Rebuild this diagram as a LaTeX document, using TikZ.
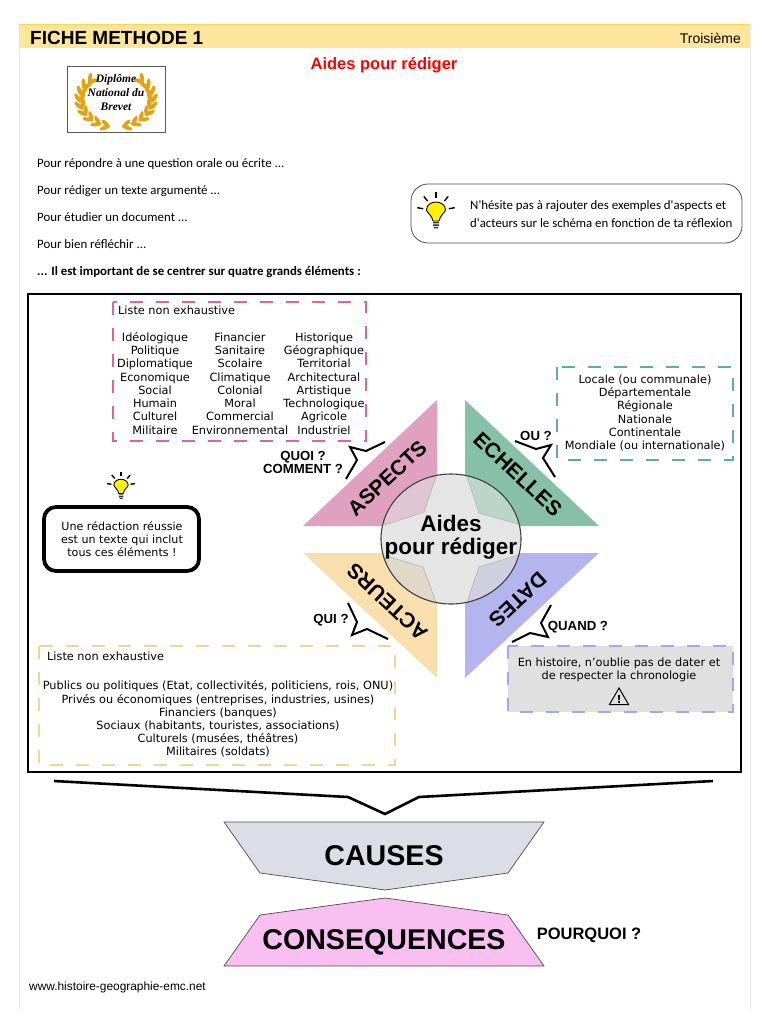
\documentclass[tikz,border=0pt]{standalone}
\usepackage{fontspec}
\usepackage{xcolor}
\setmainfont{DejaVu Sans}
\newfontfamily\arialfont{Liberation Sans}
\newfontfamily\bodyfont{Carlito}
\newfontfamily\logofont{Liberation Serif}
\usetikzlibrary{shapes.geometric, positioning, calc}
\definecolor{bandyellow}{HTML}{FDE59B}
\definecolor{pinkdash}{HTML}{E0649C}
\definecolor{greendash}{HTML}{5DB095}
\definecolor{yellowdash}{HTML}{F0D595}
\definecolor{purpledash}{HTML}{A9A5EA}
\definecolor{gold}{HTML}{E2A312}
\definecolor{aspectsfill}{HTML}{E0A0C0}
\definecolor{echellesfill}{HTML}{86C0A8}
\definecolor{acteursfill}{HTML}{FADFAE}
\definecolor{datesfill}{HTML}{B4B4EE}
\definecolor{causesfill}{HTML}{DCDEE6}
\definecolor{consfill}{HTML}{F8BFF0}

\begin{document}
\begin{tikzpicture}[
  x=1pt, y=-1pt,
  every node/.style={inner sep=0pt},
  intro/.style={anchor=west, text height=10.5pt, text depth=1.5pt, font=\bodyfont\fontsize{12.85}{15}\selectfont},
  listitem/.style={text height=10pt, text depth=1pt, font=\fontsize{11.3}{13}\selectfont},
  listhead/.style={listitem, anchor=west},
  question/.style={text height=9pt, text depth=0pt, font=\arialfont\bfseries\fontsize{13.2}{14}\selectfont},
  trilabel/.style={text height=15pt, text depth=0pt, font=\arialfont\bfseries\fontsize{21}{24}\selectfont},
  patch/.style={draw=black!30, line width=0.6pt},
  callout/.style={line width=2pt, line join=miter},
  dashbox/.style={line width=1.2pt, dash pattern=on 13pt off 13pt},
  bigblock/.style={draw=black!70, line width=0.7pt},
  biglabel/.style={text height=20.8pt, text depth=0pt, font=\arialfont\bfseries\fontsize{28.6}{31}\selectfont},
  bulb/.pic={
    \fill[black!80] (-3,11) rectangle (3,12.5) (-3,13.5) rectangle (3,15) (-2,16) rectangle (2,17.5);
    \draw[line width=0.9pt, fill=yellow] (-3,10) .. controls (-3.5,5) and (-9.5,1) .. (-9.5,-1) .. controls (-9.5,-6) and (-5,-9) .. (0,-9) .. controls (5,-9) and (9.5,-6) .. (9.5,-1) .. controls (9.5,1) and (3.5,5) .. (3,10) -- cycle;
    \foreach \a in {10,50,90,130,170}
      \draw[line width=1.4pt, rotate=\a] (13,0) -- (19,0);
  },
]
\useasboundingbox (0,0) rectangle (768,1024);

% page and header
\draw[black!8, line width=0.6pt] (19,24) -- (19,1010) (750,24) -- (750,1010);
\fill[bandyellow] (19,24) rectangle (750,48);
\draw[yellow!60!orange!70, line width=0.6pt] (19,24) -- (750,24);
\node[anchor=west, font=\arialfont\bfseries\fontsize{19}{20}\selectfont] (fiche) at (30,38) {FICHE METHODE 1};
\node[anchor=east, font=\arialfont\fontsize{14}{16}\selectfont] (level) at (741,38) {Troisième};
\node[text=red, font=\arialfont\bfseries\fontsize{16.5}{17}\selectfont] (title) at (384,65) {Aides pour rédiger};

% logo
\draw[black!65, line width=1pt] (67,67) rectangle (165,133);
\foreach \a in {138,153,168,183,198,213,228,243,258}
  \foreach \b in {-32,32}
    \fill[gold, shift={({116+36*cos(\a)},{100-27*sin(\a)})}, rotate=\a-90+\b] (4,0) ellipse (5.5 and 2.1);
\foreach \a in {42,27,12,-3,-18,-33,-48,-63,-78}
  \foreach \b in {-32,32}
    \fill[gold, shift={({116+36*cos(\a)},{100-27*sin(\a)})}, rotate=\a+90+\b] (4,0) ellipse (5.5 and 2.1);
\node[align=center, font=\logofont\bfseries\itshape\fontsize{11.5}{14}\selectfont] (logo) at (116,93) {Diplôme\\National du\\Brevet};

% intro
\node[intro] (q1) at (37,163) {Pour répondre à une question orale ou écrite ...};
\node[intro] (q2) at (37,190) {Pour rédiger un texte argumenté ...};
\node[intro] (q3) at (37,217) {Pour étudier un document ...};
\node[intro] (q4) at (37,244) {Pour bien réfléchir ...};
\node[intro, font=\bodyfont\bfseries\fontsize{12.85}{15}\selectfont] (q5) at (37,271) {... Il est important de se centrer sur quatre grands éléments :};

% hint box
\draw[black!70, line width=0.8pt, rounded corners=17pt] (411,184) rectangle (742,243);
\pic at (436,211) {bulb};
\node[intro] (hint1) at (470,205) {N'hésite pas à rajouter des exemples d'aspects et};
\node[intro] (hint2) at (470,223) {d'acteurs sur le schéma en fonction de ta réflexion};

% main frame
\draw[black, line width=1.4pt] (28,294) rectangle (741,772);

% aspects list
\draw[dashbox, draw=pinkdash] (113,302) rectangle (366,441);
\node[listhead] (listA) at (118,310) {Liste non exhaustive};
\node[listitem] at (155,337) {Idéologique};
\node[listitem] at (155,350) {Politique};
\node[listitem] at (155,363) {Diplomatique};
\node[listitem] at (155,377) {Economique};
\node[listitem] at (155,390) {Social};
\node[listitem] at (155,403) {Humain};
\node[listitem] at (155,416) {Culturel};
\node[listitem] at (155,430) {Militaire};
\node[listitem] at (240,337) {Financier};
\node[listitem] at (240,350) {Sanitaire};
\node[listitem] at (240,363) {Scolaire};
\node[listitem] at (240,377) {Climatique};
\node[listitem] at (240,390) {Colonial};
\node[listitem] at (240,403) {Moral};
\node[listitem] at (240,416) {Commercial};
\node[listitem] at (240,430) {Environnemental};
\node[listitem] at (324,337) {Historique};
\node[listitem] at (324,350) {Géographique};
\node[listitem] at (324,363) {Territorial};
\node[listitem] at (324,377) {Architectural};
\node[listitem] at (324,390) {Artistique};
\node[listitem] at (324,403) {Technologique};
\node[listitem] at (324,416) {Agricole};
\node[listitem] at (324,430) {Industriel};

% echelles list
\draw[dashbox, draw=greendash] (557,367) rectangle (733,460);
\node[listitem] at (645,379) {Locale (ou communale)};
\node[listitem] at (645,392) {Départementale};
\node[listitem] at (645,405) {Régionale};
\node[listitem] at (645,419) {Nationale};
\node[listitem] at (645,432) {Continentale};
\node[listitem] at (645,445) {Mondiale (ou internationale)};

% wedges
\fill[aspectsfill] (437,400) -- (303,526) -- (437,526) -- cycle;
\fill[echellesfill] (465,400) -- (599,526) -- (465,526) -- cycle;
\fill[acteursfill] (303,553) -- (437,553) -- (437,678) -- cycle;
\fill[datesfill] (599,553) -- (465,553) -- (465,678) -- cycle;

% centre
\fill[black!10] (451,539) ellipse (70 and 65);
\begin{scope}
  \clip (451,539) ellipse (70 and 65);
  \filldraw[patch, fill={rgb,255:red,224;green,197;blue,210}] (436,477) -- (424,512) -- (385,525) -- (375,470) -- cycle;
  \filldraw[patch, fill={rgb,255:red,188;green,213;blue,201}] (467,477) -- (479,513) -- (518,524) -- (527,470) -- cycle;
  \filldraw[patch, fill={rgb,255:red,224;green,216;blue,200}] (386,556) -- (423,567) -- (436,602) -- (375,608) -- cycle;
  \filldraw[patch, fill={rgb,255:red,207;green,207;blue,224}] (518,555) -- (479,567) -- (467,602) -- (527,608) -- cycle;
\end{scope}
\draw[black!75, line width=1.1pt] (451,539) ellipse (70 and 65);
\node[align=center, font=\arialfont\bfseries\fontsize{22.5}{23}\selectfont] (centre) at (451,537) {Aides\\pour rédiger};

\node[trilabel, rotate=43] (aspects) at (387,478) {ASPECTS};
\node[trilabel, rotate=-43] (echelles) at (518,474) {ECHELLES};
\node[trilabel, rotate=137] (acteurs) at (387,602) {ACTEURS};
\node[trilabel, rotate=223] (dates) at (518,600) {DATES};

% callouts
\draw[callout] (385,442) -- (366,451) -- (350,447) -- (357,460) -- (346,479);
\draw[callout] (515,441) -- (536,449) -- (551,445) -- (543,458) -- (555,477);
\draw[callout] (348,603) -- (357,622) -- (352,635) -- (367,629) -- (388,639);
\draw[callout] (551,605) -- (541,623) -- (548,637) -- (530,633) -- (512,642);
\node[question] (quoi) at (303,456) {QUOI ?};
\node[question] (comment) at (303,469) {COMMENT ?};
\node[question] (ou) at (536,436) {OU ?};
\node[question] (qui) at (331,619) {QUI ?};
\node[question] (quand) at (578,626) {QUAND ?};

% reminder
\pic[scale=0.75] at (121,486) {bulb};
\draw[black, line width=3.8pt, rounded corners=12pt] (44,507) rectangle (199,571);
\node[align=center, font=\fontsize{11.1}{13.3}\selectfont] (reminder) at (122,539) {Une rédaction réussie\\est un texte qui inclut\\tous ces éléments !};

% acteurs list
\draw[dashbox, draw=yellowdash] (39,646) rectangle (395,765);
\node[listhead] (listB) at (47,656) {Liste non exhaustive};
\node[listitem] at (218,685) {Publics ou politiques (Etat, collectivités, politiciens, rois, ONU)};
\node[listitem] at (218,699) {Privés ou économiques (entreprises, industries, usines)};
\node[listitem] at (218,712) {Financiers (banques)};
\node[listitem] at (218,725) {Sociaux (habitants, touristes, associations)};
\node[listitem] at (218,738) {Culturels (musées, théâtres)};
\node[listitem] at (218,751) {Militaires (soldats)};

% dates note
\filldraw[dashbox, draw=purpledash, fill=black!12] (508,646) rectangle (733,712);
\node[listitem] (note1) at (619,662) {En histoire, n'oublie pas de dater et};
\node[listitem] (note2) at (619,675) {de respecter la chronologie};
\node[draw=black, line width=1pt, regular polygon, regular polygon sides=3, minimum size=22pt] (warn) at (619,699) {};
\node[font=\bfseries\fontsize{11}{11}\selectfont] (warnmark) at (619,699) {!};

% chevron
\draw[black, line width=2.6pt, line join=miter] (54,781) -- (348,797) -- (385,814) -- (419,797) -- (713,781);

% causes and consequences
\filldraw[bigblock, fill=causesfill] (224,822) -- (544,822) -- (508,873) -- (385,890) -- (260,873) -- cycle;
\filldraw[bigblock, fill=consfill] (385,898) -- (508,915) -- (544,966) -- (224,966) -- (260,915) -- cycle;
\node[biglabel] (causes) at (384,855) {CAUSES};
\node[biglabel] (consequences) at (384,939) {CONSEQUENCES};
\node[font=\arialfont\bfseries\fontsize{16.5}{17}\selectfont] (pourquoi) at (589,935) {POURQUOI ?};
\node[anchor=west, font=\arialfont\fontsize{11.9}{14}\selectfont] (site) at (29,987) {www.histoire-geographie-emc.net};
\end{tikzpicture}
\end{document}
